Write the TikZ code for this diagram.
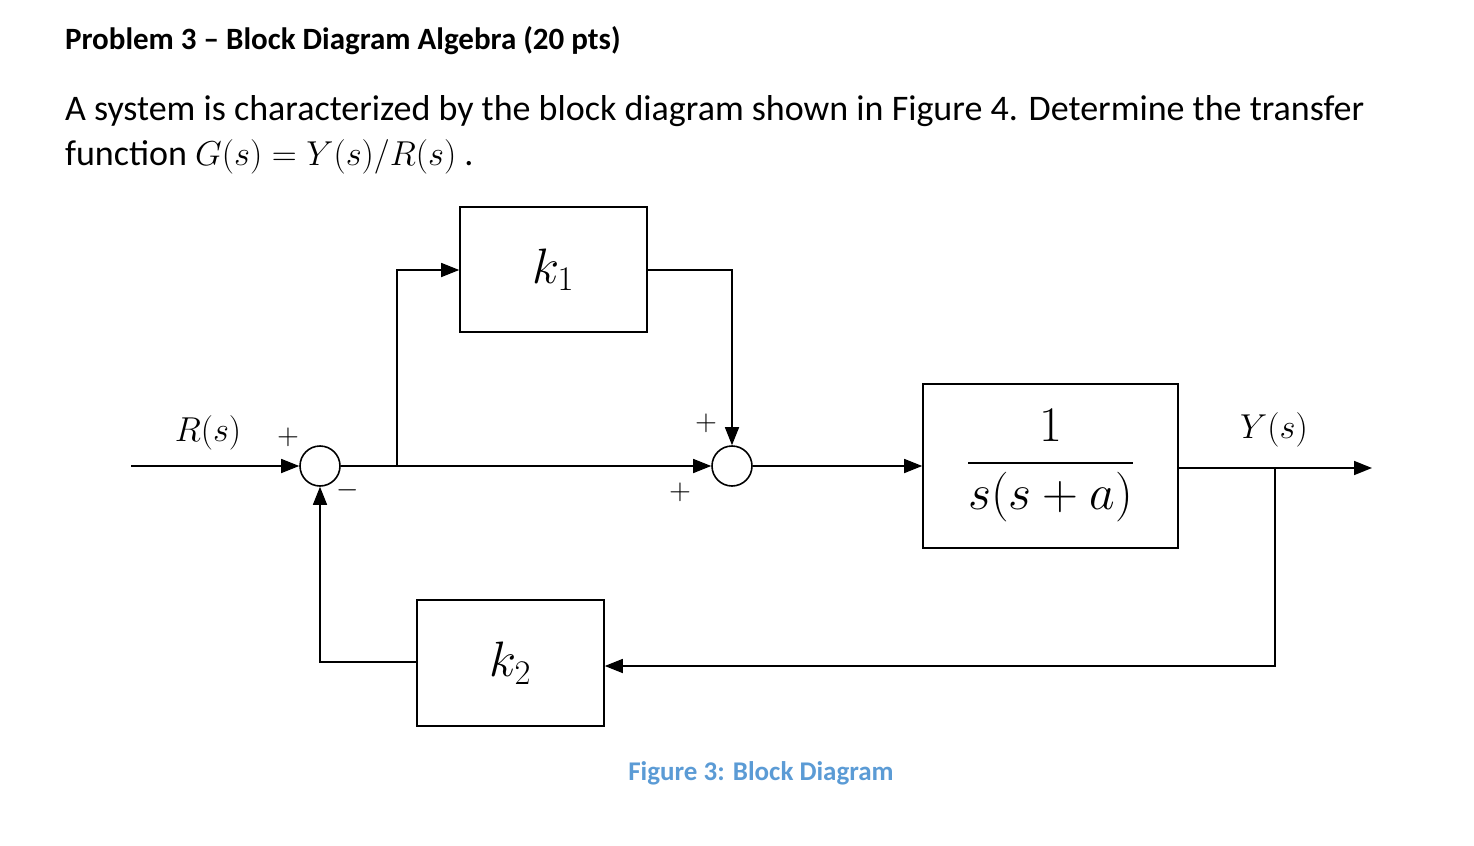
\documentclass[tikz,border=0pt]{standalone}
\usepackage{amsmath}
\usepackage{fontspec}
\setmainfont{Carlito}
\usetikzlibrary{arrows.meta}
\definecolor{cap}{RGB}{91,155,213}
\begin{document}
\begin{tikzpicture}[x=0.5pt,y=-0.5pt,
  blk/.style={draw,line width=0.8pt,inner sep=0pt},
  sum/.style={draw,circle,line width=0.8pt,minimum size=20pt,inner sep=0pt},
  sig/.style={line width=0.8pt,-{Triangle[length=9pt,width=7pt]}},
  ln/.style={line width=0.8pt}]
\useasboundingbox (0,0) rectangle (1474,846);
\node[anchor=west,font=\fontsize{15.5}{18}\selectfont\bfseries] (title) at (58,41) {Problem 3 -- Block Diagram Algebra (20 pts)};
\node[anchor=west,font=\fontsize{18}{20}\selectfont] (l1) at (58,111) {A system is characterized by the block diagram shown in Figure 4. Determine the transfer};
\node[anchor=west,font=\fontsize{18}{20}\selectfont] (l2) at (58,157) {function $G(s)=Y(s)/R(s)$ .};
\node[sum] (s1) at (320,466) {};
\node[sum] (s2) at (732,466) {};
\node[blk,minimum width=93.5pt,minimum height=62.5pt,font=\fontsize{27}{30}\selectfont] (k1) at (553.5,269.5) {$k_1$};
\node[blk,minimum width=93.5pt,minimum height=63pt,font=\fontsize{27}{30}\selectfont] (k2) at (510.5,663) {$k_2$};
\node[blk,minimum width=127.5pt,minimum height=82pt,font=\fontsize{27}{30}\selectfont] (G) at (1050.5,466) {$\dfrac{1}{s(s+a)}$};
\coordinate (in) at (131,466);
\coordinate (b1) at (397,466);
\coordinate (b2) at (1275,468);
\coordinate (out) at (1372,468);
\draw[sig] (in) -- (s1.west);
\draw[ln] (s1.east) -- (b1);
\draw[sig] (b1) -- (s2.west);
\draw[sig] (b1) |- (k1.west |- 0,270);
\draw[sig] (k1.east |- 0,270) -| (s2.north);
\draw[sig] (s2.east) -- (G.west);
\draw[sig] (G.east |- out) -- (out);
\draw[sig] (b2) |- (k2.east |- 0,666);
\draw[sig] (k2.west |- 0,662) -| (s1.south);
\node[font=\fontsize{19}{21}\selectfont] (R) at (208,433) {$R(s)$};
\node[font=\fontsize{19}{21}\selectfont] (Y) at (1274,430) {$Y(s)$};
\node[font=\fontsize{15}{16}\selectfont] (p1) at (288,437) {$+$};
\node[font=\fontsize{15}{16}\selectfont] (m1) at (348,490) {$-$};
\node[font=\fontsize{15}{16}\selectfont] (p2) at (706,423) {$+$};
\node[font=\fontsize{15}{16}\selectfont] (p3) at (680,492) {$+$};
\node[font=\fontsize{13.5}{15}\selectfont\bfseries,text=cap] (fc) at (761,773) {Figure 3: Block Diagram};
\end{tikzpicture}
\end{document}
